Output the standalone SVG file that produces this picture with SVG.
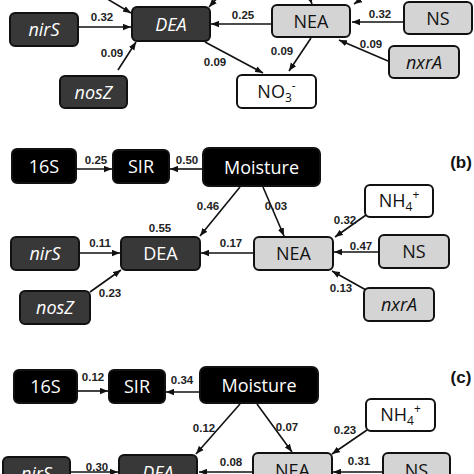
<svg xmlns="http://www.w3.org/2000/svg" width="474" height="474" viewBox="0 0 474 474">
<defs>
<marker id="ah" markerUnits="userSpaceOnUse" markerWidth="8" markerHeight="7" viewBox="0 0 10 8" refX="10" refY="4" orient="auto">
<path d="M0,0 L10,4 L0,8 z" fill="#111"/>
</marker>
<style>
rect{stroke:#111;stroke-width:2}
.dk{fill:#383838}
.bk{fill:#000}
.gy{fill:#d4d4d4}
.wh{fill:#fff}
.t{font-family:"Open Sans","Noto Sans",sans-serif;font-size:18px;text-anchor:middle}
.tw{fill:#fff}
.tb{fill:#111}
.it{font-style:italic}
.e line{stroke:#111;stroke-width:1.6;marker-end:url(#ah)}
.lb{font-family:"Liberation Sans",Arial,sans-serif;font-weight:bold;font-size:11.5px;fill:#222;text-anchor:middle}
.pl{font-family:"Liberation Sans",Arial,sans-serif;font-weight:bold;font-size:17px;fill:#111;text-anchor:middle}
</style>
</defs>
<rect x="0" y="0" width="474" height="474" fill="#fff" style="stroke:none"/>

<g class="e" id="connectors">
<!-- panel a -->
<line x1="79" y1="27" x2="131" y2="27"/>
<line x1="118" y1="70" x2="136" y2="42"/>
<line x1="104" y1="-3" x2="131" y2="13"/>
<line x1="220" y1="-5" x2="209" y2="7"/>
<line x1="271" y1="24" x2="211" y2="24"/>
<line x1="205" y1="42" x2="263" y2="73"/>
<line x1="311" y1="38" x2="289" y2="71"/>
<line x1="403" y1="22" x2="352" y2="22"/>
<line x1="388" y1="61" x2="339" y2="40"/>
<line x1="370" y1="-7" x2="354" y2="4"/>
<line x1="306" y1="-12" x2="312" y2="4"/>
<!-- panel b -->
<line x1="77" y1="169" x2="112" y2="169"/>
<line x1="202" y1="169" x2="170" y2="169"/>
<line x1="240" y1="187" x2="200" y2="236"/>
<line x1="263" y1="187" x2="284" y2="236"/>
<line x1="366" y1="215" x2="335" y2="237"/>
<line x1="80" y1="253" x2="120" y2="253"/>
<line x1="90" y1="292" x2="121" y2="270"/>
<line x1="253" y1="253" x2="201" y2="253"/>
<line x1="378" y1="252" x2="334" y2="252"/>
<line x1="366" y1="290" x2="332" y2="271"/>
<!-- panel c -->
<line x1="78" y1="391" x2="108" y2="391"/>
<line x1="199" y1="392" x2="166" y2="392"/>
<line x1="240" y1="404" x2="196" y2="454"/>
<line x1="257" y1="404" x2="292" y2="452"/>
<line x1="367" y1="430" x2="332" y2="454"/>
<line x1="71" y1="472" x2="118" y2="472"/>
<line x1="252" y1="472" x2="199" y2="472"/>
<line x1="382" y1="472" x2="333" y2="472"/>
</g>

<g id="labels">
<text class="lb" x="102" y="21">0.32</text>
<text class="lb" x="112" y="57">0.09</text>
<text class="lb" x="215" y="66">0.09</text>
<text class="lb" x="243" y="19">0.25</text>
<text class="lb" x="282" y="55">0.09</text>
<text class="lb" x="380" y="18">0.32</text>
<text class="lb" x="371" y="48">0.09</text>

<text class="lb" x="96" y="164">0.25</text>
<text class="lb" x="187" y="164">0.50</text>
<text class="lb" x="208" y="210">0.46</text>
<text class="lb" x="160" y="232">0.55</text>
<text class="lb" x="276" y="210">0.03</text>
<text class="lb" x="345" y="224">0.32</text>
<text class="lb" x="100" y="247">0.11</text>
<text class="lb" x="231" y="247">0.17</text>
<text class="lb" x="110" y="297">0.23</text>
<text class="lb" x="361" y="250">0.47</text>
<text class="lb" x="341" y="292">0.13</text>

<text class="lb" x="93" y="381">0.12</text>
<text class="lb" x="182" y="384">0.34</text>
<text class="lb" x="204" y="432">0.12</text>
<text class="lb" x="287" y="431">0.07</text>
<text class="lb" x="345" y="434">0.23</text>
<text class="lb" x="359" y="465">0.31</text>
<text class="lb" x="97" y="471">0.30</text>
<text class="lb" x="231" y="466">0.08</text>

<text class="pl" x="461" y="168">(b)</text>
<text class="pl" x="461" y="383">(c)</text>
</g>

<!-- panel a nodes -->
<g id="a-nirS"><rect class="dk" x="10" y="13" width="68" height="33" rx="5"/><text class="t tw it" x="44" y="36">nirS</text></g>
<g id="a-DEA"><rect class="dk" x="132" y="7" width="78" height="34" rx="5"/><text class="t tw it" x="171" y="30.5">DEA</text></g>
<g id="a-nosZ"><rect class="dk" x="60" y="76" width="67" height="32" rx="5"/><text class="t tw it" x="93.5" y="98.5">nosZ</text></g>
<g id="a-NEA"><rect class="gy" x="272" y="5" width="78" height="32" rx="5"/><text class="t tb" x="311" y="27.5">NEA</text></g>
<g id="a-NS"><rect class="gy" x="404" y="2" width="68" height="32" rx="5"/><text class="t tb" x="438" y="24.5">NS</text></g>
<g id="a-nxrA"><rect class="gy" x="389" y="46" width="70" height="32" rx="5"/><text class="t tb it" x="424" y="68.5">nxrA</text></g>
<g id="a-NO3"><rect class="wh" x="237" y="75" width="79" height="33" rx="5"/><text class="t tb" x="276.5" y="98">NO<tspan font-size="12" dy="4">3</tspan><tspan font-size="12" dy="-12">-</tspan></text></g>

<!-- panel b nodes -->
<g id="b-16S"><rect class="bk" x="12" y="149" width="64" height="34" rx="5"/><text class="t tw" x="44" y="172.5">16S</text></g>
<g id="b-SIR"><rect class="bk" x="113" y="150" width="56" height="33" rx="5"/><text class="t tw" x="141" y="173">SIR</text></g>
<g id="b-Moisture"><rect class="bk" x="203" y="148" width="117" height="38" rx="6"/><text class="t tw" x="261.5" y="173.5">Moisture</text></g>
<g id="b-NH4"><rect class="wh" x="365" y="185" width="68" height="32" rx="5"/><text class="t tb" x="399" y="207">NH<tspan font-size="12" dy="4">4</tspan><tspan font-size="12" dy="-12">+</tspan></text></g>
<g id="b-nirS"><rect class="dk" x="11" y="237" width="68" height="33" rx="5"/><text class="t tw it" x="45" y="260">nirS</text></g>
<g id="b-DEA"><rect class="dk" x="121" y="237" width="79" height="33" rx="5"/><text class="t tw" x="160.5" y="260">DEA</text></g>
<g id="b-nosZ"><rect class="dk" x="20" y="291" width="70" height="33" rx="5"/><text class="t tw it" x="55" y="314">nosZ</text></g>
<g id="b-NEA"><rect class="gy" x="254" y="237" width="79" height="33" rx="5"/><text class="t tb" x="293.5" y="260">NEA</text></g>
<g id="b-NS"><rect class="gy" x="379" y="235" width="70" height="33" rx="5"/><text class="t tb" x="414" y="258">NS</text></g>
<g id="b-nxrA"><rect class="gy" x="364" y="288" width="70" height="33" rx="5"/><text class="t tb it" x="399" y="311">nxrA</text></g>

<!-- panel c nodes -->
<g id="c-16S"><rect class="bk" x="14" y="370" width="63" height="33" rx="5"/><text class="t tw" x="45.5" y="393">16S</text></g>
<g id="c-SIR"><rect class="bk" x="109" y="370" width="56" height="33" rx="5"/><text class="t tw" x="137" y="393">SIR</text></g>
<g id="c-Moisture"><rect class="bk" x="200" y="367" width="118" height="36" rx="6"/><text class="t tw" x="259" y="391.5">Moisture</text></g>
<g id="c-NH4"><rect class="wh" x="366" y="399" width="69" height="32" rx="5"/><text class="t tb" x="400.5" y="421">NH<tspan font-size="12" dy="4">4</tspan><tspan font-size="12" dy="-12">+</tspan></text></g>
<g id="c-nirS"><rect class="dk" x="3" y="457" width="67" height="33" rx="5"/><text class="t tw it" x="36.5" y="480">nirS</text></g>
<g id="c-DEA"><rect class="dk" x="119" y="455" width="78" height="34" rx="5"/><text class="t tw it" x="158" y="478.5">DEA</text></g>
<g id="c-NEA"><rect class="gy" x="253" y="453" width="79" height="34" rx="5"/><text class="t tb" x="292.5" y="476.5">NEA</text></g>
<g id="c-NS"><rect class="gy" x="383" y="453" width="67" height="34" rx="5"/><text class="t tb" x="416.5" y="476.5">NS</text></g>
</svg>
